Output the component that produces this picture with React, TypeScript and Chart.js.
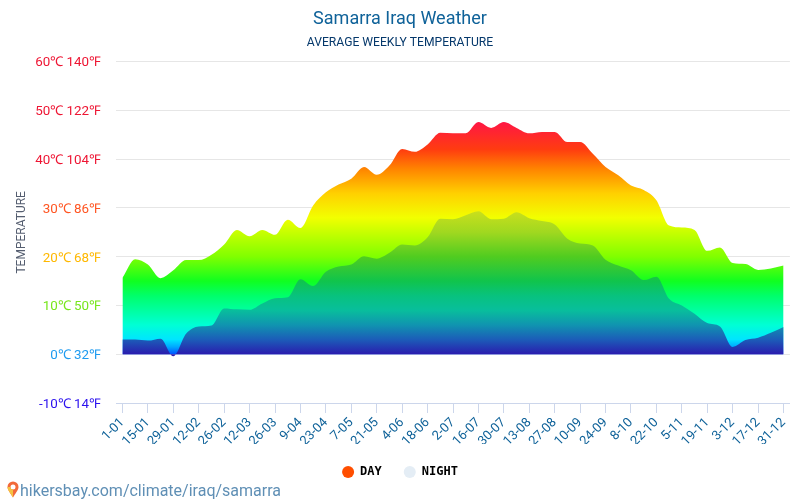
import React, { useEffect, useRef } from "react";
import { Chart, registerables } from "chart.js";

Chart.register(...registerables);

const weeks = ["1-01","8-01","15-01","22-01","29-01","5-02","12-02","19-02","26-02","5-03","12-03","19-03","26-03","2-04","9-04","16-04","23-04","30-04","7-05","14-05","21-05","28-05","4-06","11-06","18-06","25-06","2-07","9-07","16-07","23-07","30-07","6-08","13-08","20-08","27-08","3-09","10-09","17-09","24-09","1-10","8-10","15-10","22-10","29-10","5-11","12-11","19-11","26-11","3-12","10-12","17-12","24-12","31-12"];

const dayTemps = [15.7,19.5,18.4,15.6,17.2,19.3,19.3,20.4,22.5,25.5,24.2,25.5,24.5,27.6,25.9,30.5,33.2,34.8,36.0,38.4,36.8,38.7,42.1,41.5,43.0,45.4,45.3,45.3,47.6,46.4,47.6,46.4,45.3,45.6,45.6,43.5,43.5,41.1,38.4,36.7,34.6,33.7,31.6,26.4,26.0,25.5,21.2,21.9,18.7,18.5,17.3,17.6,18.2];

const nightTemps = [3.0,3.0,2.8,3.2,-0.4,4.2,5.7,5.9,9.4,9.2,9.1,10.4,11.5,11.7,15.4,14.0,16.9,18.0,18.4,20.1,19.6,20.8,22.5,22.3,24.0,27.8,27.7,28.5,29.3,27.7,27.8,29.1,27.9,27.3,26.6,23.7,22.7,22.3,19.4,18.2,17.2,15.2,15.9,11.4,10.0,8.3,6.4,5.7,1.5,2.9,3.4,4.4,5.6];

const celsiusTicks = [-10,0,10,20,30,40,50,60];
const fahrenheitTicks = [14,32,50,68,86,104,122,140];
const tickColors = ["#2a10ee","#1e9bf0","#77e61c","#ffb800","#ff5522","#ee1533","#ee1533","#ee1533"];

const dayStopTemps = [48,42,38,33,28,20,15,12,6,3,1.5,0,-1];
const dayStopColors = ["#ff1448","#ff3c10","#ff8400","#ffd000","#f2ff00","#80ff00","#10ff20","#00ff6a","#00ffd5","#00e5ff","#00a8ff","#0050ff","#2222ff"];
const nightStopTemps = [30,25,20,15,12,9,6,3,0,-1];
const nightStopColors = ["#d0e01c","#a0d820","#50cc20","#10c44c","#08c27e","#08be9c","#1094b0","#1c5cb8","#2a1cae","#2a10a8"];

const legendNames = ["DAY","NIGHT"];
const legendColors = ["#ff4e00","#e4edf5"];

function gradient(ctx: any, temps: number[], colors: string[]) {
  const { chart } = ctx;
  const area = chart.chartArea;
  if (!area) return colors[0];
  const g = chart.ctx.createLinearGradient(0, area.top, 0, area.bottom);
  temps.forEach((t, i) => g.addColorStop((60 - t) / 70, colors[i]));
  return g;
}

function nudgeLabels(axis: any, dy: number) {
  if (axis._nudged) return;
  axis._nudged = true;
  const compute = axis._computeLabelItems.bind(axis);
  axis._computeLabelItems = (area: any) =>
    compute(area).map((it: any) => ({
      ...it,
      options: { ...it.options, translation: [it.options.translation[0], it.options.translation[1] + dy] },
    }));
}

export default function App() {
  const ref = useRef<HTMLCanvasElement>(null);
  useEffect(() => {
    const chart = new Chart(ref.current!, {
      type: "line",
      data: {
        labels: weeks,
        datasets: [
          { label: "DAY", data: dayTemps, order: 1, fill: "origin", borderWidth: 0, pointRadius: 0, cubicInterpolationMode: "monotone",
            backgroundColor: (c: any) => gradient(c, dayStopTemps, dayStopColors) },
          { label: "NIGHT", data: nightTemps, order: 0, fill: "origin", borderWidth: 0, pointRadius: 0, cubicInterpolationMode: "monotone",
            backgroundColor: (c: any) => gradient(c, nightStopTemps, nightStopColors) },
        ],
      },
      options: {
        responsive: false,
        animation: false,
        events: [],
        layout: { padding: { left: 10.1, right: 10.1, top: 0, bottom: 12 } },
        plugins: {
          tooltip: { enabled: false },
          title: { display: true, text: "Samarra Iraq Weather", color: "#0f6299",
            font: { family: "Roboto", size: 18, weight: "normal" }, padding: { top: 9, bottom: 3 } },
          subtitle: { display: true, text: "AVERAGE WEEKLY TEMPERATURE", color: "#05386b",
            font: { family: "Roboto", size: 12.13, weight: "normal" }, padding: { top: 2, bottom: 11.5 } },
          legend: {
            position: "bottom",
            labels: {
              usePointStyle: true, pointStyle: "circle", boxWidth: 12, boxHeight: 8.5, padding: 22,
              color: "#3d3d4d",
              font: { family: "DejaVu Sans Mono", size: 12, weight: "bold" },
              generateLabels: () => legendNames.map((n, i) => ({
                text: n, fillStyle: legendColors[i], strokeStyle: legendColors[i], lineWidth: 0, pointStyle: "circle", datasetIndex: i,
              })),
            },
          },
        },
        scales: {
          x: {
            type: "category",
            offset: true,
            afterBuildTicks: (axis: any) => { axis.ticks = axis.ticks.filter((_: any, i: number) => i % 2 === 0); },
            afterFit: (axis: any) => { axis.height = 41; },
            border: { display: true, color: "#ccd6eb", width: 1 },
            grid: { drawOnChartArea: false, drawTicks: true, tickLength: 10, tickColor: "#ccd6eb", offset: false },
            ticks: { autoSkip: false, minRotation: 45, maxRotation: 45, padding: 2, color: "#0f6299",
              font: { family: "Roboto", size: 13 } },
          },
          y: {
            min: -10,
            max: 60,
            afterFit: (axis: any) => { axis.width = 106; nudgeLabels(axis, 1.5); },
            border: { display: false },
            grid: { drawTicks: false, color: (c: any) => (c.tick && c.tick.value === -10 ? "rgba(0,0,0,0)" : "#e6e6e6") },
            title: { display: true, text: "TEMPERATURE", color: "#555e70", font: { family: "Roboto", size: 12 }, padding: { top: 5, bottom: 0 } },
            ticks: {
              stepSize: 10,
              padding: 15,
              font: { family: "Roboto", size: 13.4 },
              color: (c: any) => tickColors[celsiusTicks.indexOf(c.tick.value)],
              callback: (v: any) => {
                const i = celsiusTicks.indexOf(v);
                return `${celsiusTicks[i]}℃ ${fahrenheitTicks[i]}℉`;
              },
            },
          },
        },
      },
    } as any);
    return () => chart.destroy();
  }, []);

  return (
    <div style={{ position: "absolute", left: 0, top: 0, width: 800, height: 500, background: "#fff", overflow: "hidden" }}>
      <canvas ref={ref} width={800} height={500} style={{ display: "block" }} />
      <svg width="12" height="17" viewBox="0 0 12 17" style={{ position: "absolute", left: 6.5, top: 481 }}>
        <path d="M6 0.5 A5.5 5.5 0 0 1 11.5 6 C11.5 9 8 13 6 16.5 C4 13 0.5 9 0.5 6 A5.5 5.5 0 0 1 6 0.5 Z M6 3.5 A2.5 2.5 0 1 0 6 8.5 A2.5 2.5 0 1 0 6 3.5 Z" fill="#f26a3a" fillRule="evenodd" />
        <path d="M0.5 6 C0.5 9 4 13 6 16.5 L6 8.5 A2.5 2.5 0 0 1 3.5 6 Z" fill="#f5c242" />
      </svg>
      <div style={{ position: "absolute", left: 20, top: 481, fontFamily: "Roboto", fontSize: 16, lineHeight: "19px", color: "#5f8fb5", whiteSpace: "nowrap" }}>
        hikersbay.com/climate/iraq/samarra
      </div>
    </div>
  );
}
